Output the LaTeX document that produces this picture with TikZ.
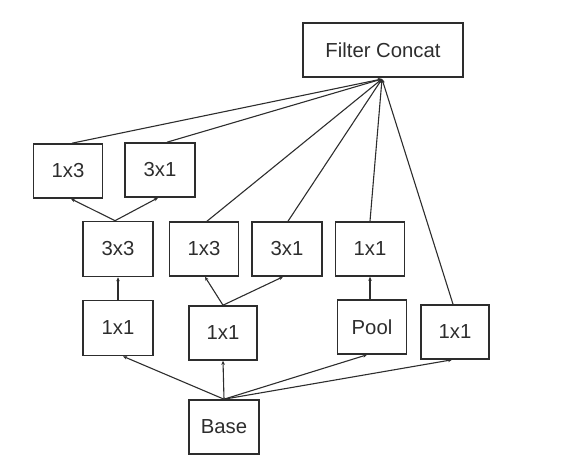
\documentclass[tikz,border=0pt]{standalone}
\usepackage{fontspec}
\setmainfont{Liberation Sans}
\usetikzlibrary{arrows.meta}
\definecolor{ink}{RGB}{45,45,45}
\begin{document}
\begin{tikzpicture}[x=1pt,y=-1pt,
  box/.style={draw=ink,line width=1.6pt,text=ink,font=\fontsize{20.3}{23}\selectfont,inner sep=0pt,minimum width=69pt,minimum height=54pt},
  conn/.style={draw=ink,line width=1.1pt,-{Stealth[length=4pt,width=3.5pt]}}]
\useasboundingbox (0,0) rectangle (569,470);
\node[box,minimum width=160pt] (fc) at (383,50) {Filter Concat};
\coordinate (fcin) at (382,79);
\node[box] (a13) at (68,171) {1x3};
\node[box,minimum width=70pt] (a31) at (160,170) {3x1};
\node[box,minimum width=70pt,minimum height=55pt] (b33) at (118,249) {3x3};
\node[box] (b13) at (204,249) {1x3};
\node[box,minimum width=70pt] (b31) at (287,249) {3x1};
\node[box] (b11) at (370,249) {1x1};
\node[box,minimum width=70pt,minimum height=55pt] (c11a) at (118,328) {1x1};
\node[box,minimum width=68pt] (c11b) at (223,333) {1x1};
\node[box] (pool) at (372,327) {Pool};
\node[box,minimum width=68pt] (c11d) at (455,332) {1x1};
\node[box,minimum width=70pt] (base) at (224,427) {Base};
% to Filter Concat
\draw[conn] ([xshift=4pt]a13.north) -- (fcin);
\draw[conn] ([xshift=7pt]a31.north) -- (fcin);
\draw[conn] ([xshift=3pt]b13.north) -- (fcin);
\draw[conn] ([xshift=1pt]b31.north) -- (fcin);
\draw[conn] (b11.north) -- (fcin);
\draw[conn] ([xshift=-2pt]c11d.north) -- (fcin);
% from base
\draw[conn] (base.north) -- ([xshift=5pt]c11a.south);
\draw[conn] (base.north) -- (c11b.south);
\draw[conn] (base.north) -- ([xshift=-5pt]pool.south);
\draw[conn] (base.north) -- ([xshift=-3pt]c11d.south);
% middle branch
\draw[conn] (c11b.north) -- ([xshift=1pt]b13.south);
\draw[conn] (c11b.north) -- ([xshift=-4pt]b31.south);
% pool branch
\draw[conn] ([xshift=-2pt]pool.north) -- (b11.south);
% left branch
\draw[conn] (c11a.north) -- (b33.south);
\draw[conn] ([xshift=-3pt]b33.north) -- ([xshift=3pt]a13.south);
\draw[conn] ([xshift=-3pt]b33.north) -- ([xshift=-2pt]a31.south);
\end{tikzpicture}
\end{document}
